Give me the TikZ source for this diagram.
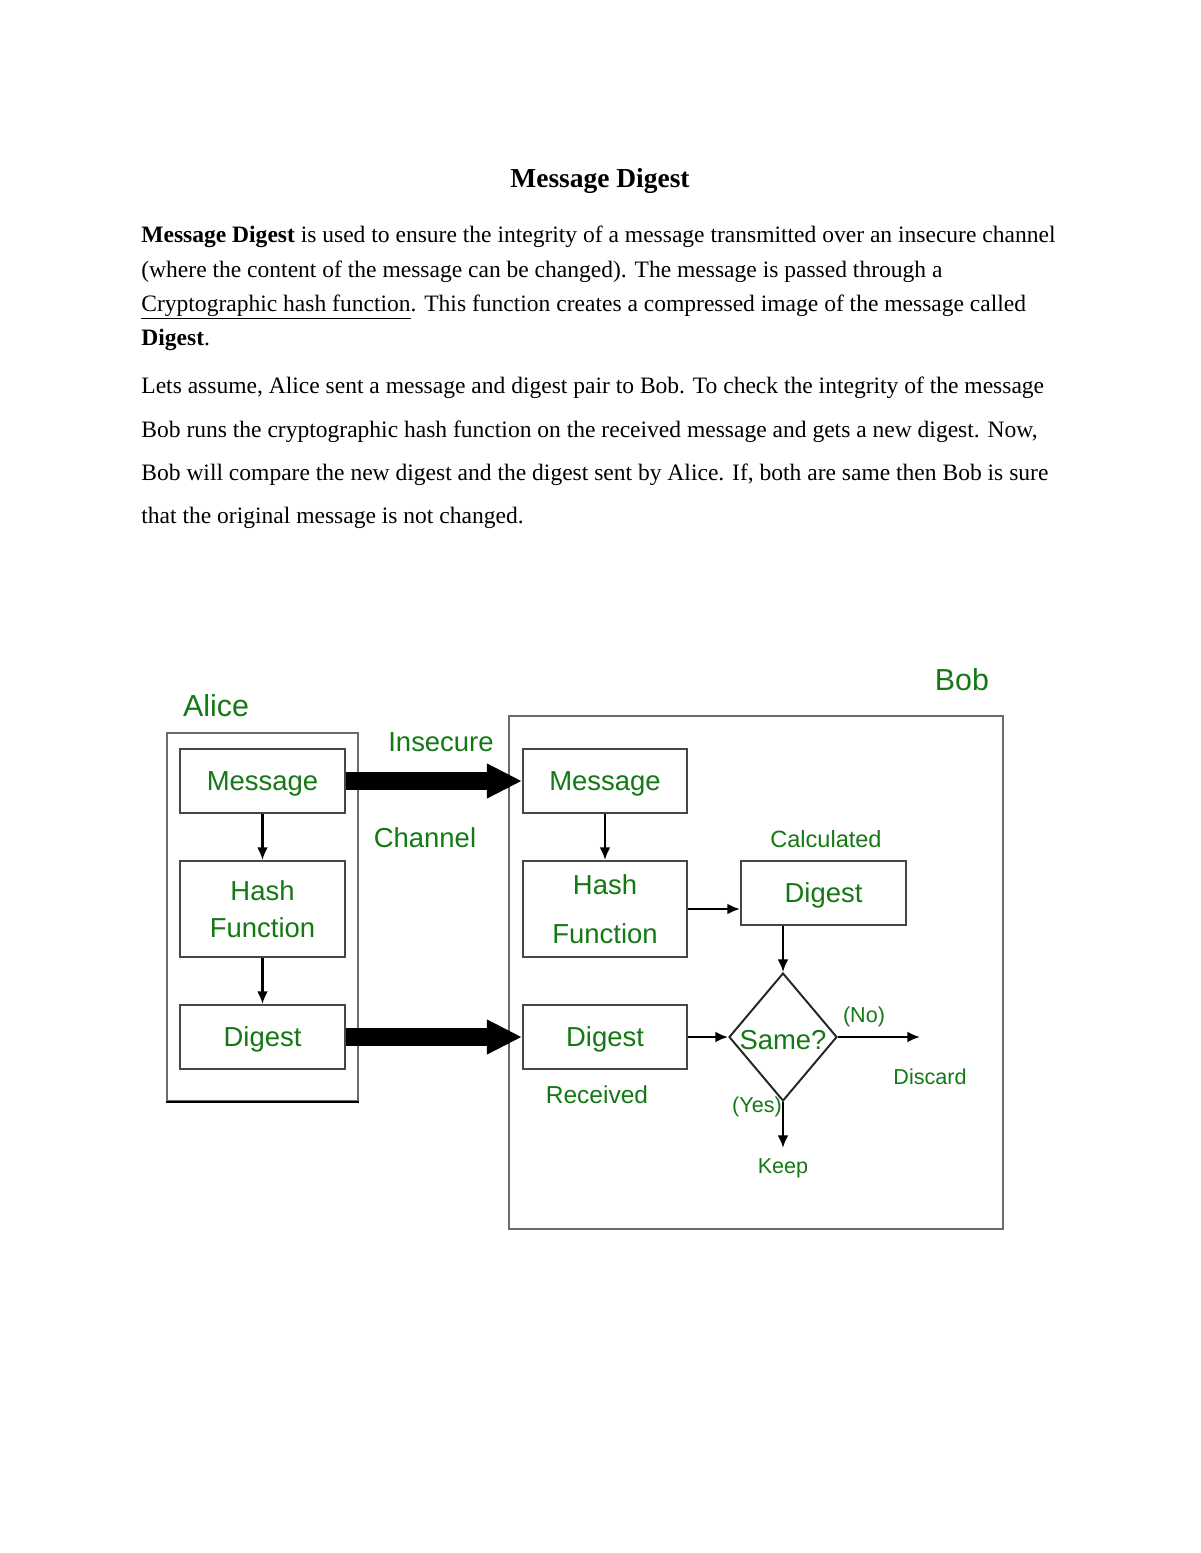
\documentclass[tikz,border=0pt]{standalone}
\usepackage{fontspec}
\setmainfont{Liberation Serif}
\newfontfamily\diag{Liberation Sans}
\usetikzlibrary{arrows.meta,shapes.geometric}
\definecolor{dgreen}{RGB}{20,120,20}
\definecolor{boxline}{RGB}{70,70,70}
\begin{document}
\begin{tikzpicture}[x=0.51pt,y=-0.51pt,
  bodyline/.style={anchor=base west,inner sep=0pt,font=\fontsize{12pt}{14pt}\selectfont},
  box/.style={draw=boxline,line width=1pt,fill=white,inner sep=0pt,font=\diag\fontsize{14pt}{16pt}\selectfont,text=dgreen,align=center,text depth=0pt},
  group/.style={draw=boxline!80,line width=0.9pt,inner sep=0pt},
  lbl/.style={inner sep=0pt,text=dgreen,font=\diag\fontsize{11pt}{13pt}\selectfont},
  thin/.style={line width=1.1pt,-{Latex[length=6.5pt,width=5.5pt]}},
  thick/.style={line width=9.2pt,-{Triangle[length=17.9pt,width=16.5pt]}}]
\useasboundingbox (0,0) rectangle (1200,1553);
% text
\node[anchor=base,inner sep=0pt,font=\bfseries\fontsize{14pt}{16pt}\selectfont] (title) at (600,188) {Message Digest};
\node[bodyline] (l1) at (141,243) {\textbf{Message Digest} is used to ensure the integrity of a message transmitted over an insecure channel};
\node[bodyline] (l2) at (141,277) {(where the content of the message can be changed). The message is passed through a};
\node[bodyline] (l3) at (141,311) {\underline{Cryptographic hash function}. This function creates a compressed image of the message called};
\node[bodyline] (l4) at (141,345) {\textbf{Digest}.};
\node[bodyline] (l5) at (141,393) {Lets assume, Alice sent a message and digest pair to Bob. To check the integrity of the message};
\node[bodyline] (l6) at (141,437) {Bob runs the cryptographic hash function on the received message and gets a new digest. Now,};
\node[bodyline] (l7) at (141,480) {Bob will compare the new digest and the digest sent by Alice. If, both are same then Bob is sure};
\node[bodyline] (l8) at (141,523) {that the original message is not changed.};
% groups
\node[group,minimum width=191*0.51pt,minimum height=368*0.51pt] (alice) at (262.5,917) {};
\draw[line width=1.2pt,black] (alice.south west) -- (alice.south east);
\node[group,minimum width=494*0.51pt,minimum height=513*0.51pt] (bob) at (756,972.5) {};
\node[lbl,font=\diag\fontsize{15.5pt}{17pt}\selectfont] (alicet) at (216,706) {Alice};
\node[lbl,font=\diag\fontsize{15.5pt}{17pt}\selectfont] (bobt) at (962,680) {Bob};
% Alice boxes
\node[box,minimum width=165*0.51pt,minimum height=64*0.51pt] (am) at (262.5,781) {Message};
\node[box,minimum width=165*0.51pt,minimum height=96*0.51pt] (ah) at (262.5,909) {Hash\\[3pt]Function};
\node[box,minimum width=165*0.51pt,minimum height=64*0.51pt] (ad) at (262.5,1037) {Digest};
% Bob boxes
\node[box,minimum width=164*0.51pt,minimum height=64*0.51pt] (bm) at (605,781) {Message};
\node[box,minimum width=164*0.51pt,minimum height=96*0.51pt] (bh) at (605,909) {Hash\\[9pt]Function};
\node[box,minimum width=164*0.51pt,minimum height=64*0.51pt] (bd) at (605,1037) {Digest};
\node[box,minimum width=165*0.51pt,minimum height=64*0.51pt] (bc) at (823.5,893) {Digest};
\node[draw=black!85,line width=1pt,shape=diamond,minimum width=108*0.51pt,minimum height=128*0.51pt,inner sep=0pt,aspect=0.84] (dia) at (783,1037) {};
\node[lbl,font=\diag\fontsize{14pt}{16pt}\selectfont,text depth=0pt] (same) at (783,1040) {Same?};
% labels
\node[lbl,font=\diag\fontsize{14pt}{16pt}\selectfont] (ins) at (441,742) {Insecure};
\node[lbl,font=\diag\fontsize{14pt}{16pt}\selectfont] (chan) at (425,838) {Channel};
\node[lbl,font=\diag\fontsize{12pt}{14pt}\selectfont] (calc) at (826,839) {Calculated};
\node[lbl,font=\diag\fontsize{12.5pt}{14pt}\selectfont] (recv) at (597,1095) {Received};
\node[lbl] (no) at (864,1017) {(No)};
\node[lbl] (yes) at (757,1107) {(Yes)};
\node[lbl] (disc) at (930,1077) {Discard};
\node[lbl] (keep) at (783,1168) {Keep};
\coordinate (discend) at (920,1037);
\coordinate (keepend) at (783,1148);
% connectors
\draw[thin] (am) -- (ah);
\draw[thin] (ah) -- (ad);
\draw[thin] (bm) -- (bh);
\draw[thin] (bh.east) -- (bh.east -| bc.west);
\draw[thin] (bc.south -| dia.north) -- (dia.north);
\draw[thin] (bd.east) -- (dia.west);
\draw[thin] (dia.east) -- (discend);
\draw[thin] (dia.south) -- (keepend);
\draw[thick] (am.east) -- (bm.west);
\draw[thick] (ad.east) -- (bd.west);
\end{tikzpicture}
\end{document}
